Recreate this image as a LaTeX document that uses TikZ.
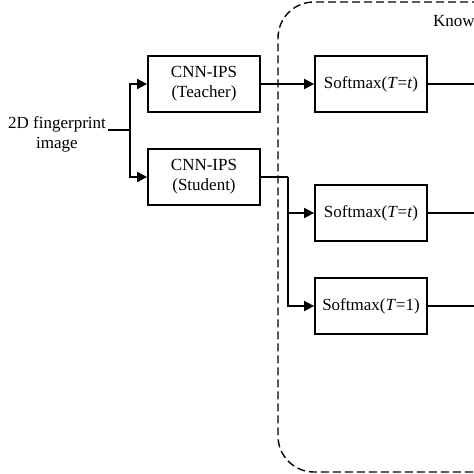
\documentclass[tikz,border=0pt]{standalone}
\usepackage{fontspec}
\setmainfont{Liberation Serif}
\usetikzlibrary{arrows.meta}
\begin{document}
\begin{tikzpicture}[
			x=1pt,y=-1pt,
			font=\fontsize{17}{20}\selectfont,
			box/.style={draw,line width=1.8pt,minimum width=112pt,minimum height=56pt,align=center,inner sep=0pt},
			wire/.style={line width=1.8pt},
			flow/.style={wire,-{Triangle[length=10pt,width=10pt]}},
			frame/.style={line width=1.4pt,dash pattern=on 8pt off 4pt,rounded corners=36pt}
		]
		\useasboundingbox (0,0) rectangle (474,474);
		\clip (0,0) rectangle (474,474);
		% dashed frame of the distillation part
		\draw[frame] (540,2) -- (278,2) -- (278,472) -- (540,472);
		\node[anchor=base west,inner sep=0pt] (title) at (433,26) {Knowledge distillation};
		% input and the two networks
		\node[align=center,inner sep=2pt] (img) at (57,134) {2D fingerprint\\image};
		\coordinate (split) at (130,130);
		\node[box] (teacher) at (204,84) {CNN-IPS\\(Teacher)};
		\node[box] (student) at (204,177) {CNN-IPS\\(Student)};
		\draw[wire] (split -| img.east) -- (split);
		\draw[flow] (split) |- (teacher.west);
		\draw[flow] (split) |- (student.west);
		% softmax layers
		\node[box] (smT) at (371,84) {Softmax(\textit{T}=\textit{t})};
		\node[box] (smS) at (371,213) {Softmax(\textit{T}=\textit{t})};
		\node[box] (smH) at (371,306) {Softmax(\textit{T}=1)};
		\coordinate (fork) at (288,177);
		\draw[flow] (teacher) -- (smT);
		\draw[wire] (student.east) -- (fork);
		\draw[flow] (fork) |- (smS.west);
		\draw[flow] (fork) |- (smH.west);
		\foreach \n in {smT,smS,smH}
			\draw[flow] (\n.east) -- ++(57,0);
	\end{tikzpicture}
\end{document}
